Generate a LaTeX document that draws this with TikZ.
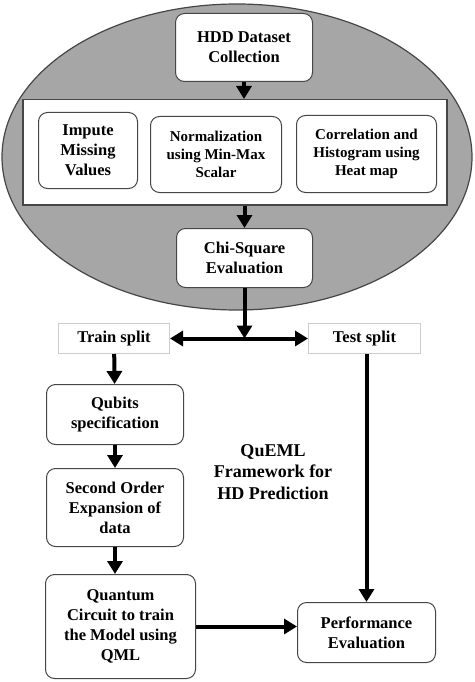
\documentclass[tikz,border=0pt]{standalone}
\usepackage{fontspec}
\setmainfont{Liberation Serif}
\usepackage{tikz}
\usetikzlibrary{arrows.meta, shapes, fit, calc, positioning}

\definecolor{ovalgray}{RGB}{166,166,166}
\definecolor{edgegray}{RGB}{70,70,70}
\definecolor{lightedge}{RGB}{205,205,205}

\tikzset{
  stagebox/.style={draw=edgegray, line width=1pt, rounded corners=9pt, fill=white, align=center, inner sep=2pt, font=\fontsize{16.5}{20}\selectfont\bfseries},
  smallstage/.style={stagebox, font=\fontsize{15}{18.3}\selectfont\bfseries},
  splitbox/.style={draw=lightedge, line width=1pt, fill=white, align=center, inner sep=2pt, font=\fontsize{16.5}{20}\selectfont\bfseries},
  flow/.style={-{Triangle[width=15pt,length=13pt]}, line width=4pt},
  twoway/.style={{Triangle[width=15pt,length=13pt]}-{Triangle[width=15pt,length=13pt]}, line width=4pt}
}

\begin{document}
\begin{tikzpicture}
\useasboundingbox (0,0) rectangle (474pt,-682pt);

\coordinate(O1) at (0,0);

% preprocessing oval
\node[ellipse, draw=edgegray, line width=1.2pt, fill=ovalgray, minimum width=470pt, minimum height=306pt](oval) at (237pt,-157pt) {};

\node[below right=13pt and 175pt of O1, stagebox, minimum width=137pt, minimum height=68pt](hdd) {HDD Dataset\\Collection};

\node[below right=99pt and 22pt of O1, draw=edgegray, line width=1.5pt, fill=white, minimum width=424pt, minimum height=105pt](prep) {};
\node[below right=112pt and 38pt of O1, stagebox, minimum width=99pt, minimum height=76pt](impute) {Impute\\Missing\\Values};
\node[below right=116pt and 150pt of O1, smallstage, minimum width=131pt, minimum height=76pt](norm) {Normalization\\using Min-Max\\Scalar};
\node[below right=115pt and 296pt of O1, smallstage, minimum width=140pt, minimum height=77pt](corr) {Correlation and\\Histogram using\\Heat map};

\node[below right=228pt and 176pt of O1, stagebox, minimum width=136pt, minimum height=59pt](chi) {Chi-Square\\Evaluation};

% splits
\node[below right=323pt and 58pt of O1, splitbox, minimum width=111pt, minimum height=30pt](train) {Train split};
\node[below right=323pt and 308pt of O1, splitbox, minimum width=112pt, minimum height=30pt](test) {Test split};

% quantum branch
\node[below right=384pt and 46pt of O1, stagebox, minimum width=137pt, minimum height=60pt](qubits) {Qubits\\specification};
\node[below right=468pt and 46pt of O1, stagebox, minimum width=137pt, minimum height=78pt](second) {Second Order\\Expansion of\\data};
\node[below right=574pt and 45pt of O1, stagebox, minimum width=150pt, minimum height=104pt](quantum) {Quantum\\Circuit to train\\the Model using\\QML};
\node[below right=602pt and 297pt of O1, stagebox, minimum width=138pt, minimum height=60pt](perf) {Performance\\Evaluation};

\node[align=center, font=\fontsize{18}{21.7}\selectfont\bfseries](frame) at (273pt,-472pt) {QuEML\\Framework for\\HD Prediction};

\coordinate (fork) at (chi.south |- train.east);

\draw[flow] (hdd.south) -- (hdd.south |- prep.north);
\draw[flow] (prep.south -| chi.north) -- (chi.north);
\draw[flow] (chi.south) -- (fork);
\draw[twoway] (train.east) -- (test.west);
\draw[flow] (train) -- (qubits);
\draw[flow] (qubits) -- (second);
\draw[flow] (second.south) -- (second.south |- quantum.north);
\draw[flow] (quantum.east) -- (quantum.east -| perf.west);
\draw[flow] (test.south -| perf.north) -- (perf.north);
\end{tikzpicture}
\end{document}
